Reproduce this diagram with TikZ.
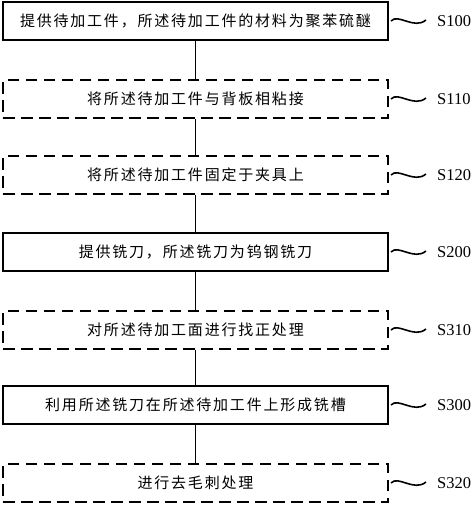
\documentclass[tikz,border=0pt]{standalone}
\usepackage{fontspec}
\setmainfont{Liberation Serif}
\newfontfamily\cjk[LetterSpace=12]{Noto Sans CJK SC}
\begin{document}
\begin{tikzpicture}[x=1pt,y=1pt]
\tikzset{
 solidbox/.style={draw, line width=1.8pt, minimum width=385pt, minimum height=38pt, inner sep=0pt, font=\cjk\fontsize{15}{18}\selectfont},
 dashbox/.style={solidbox, line width=2.7pt, dash pattern=on 11.5pt off 6.5pt},
 conn/.style={line width=1.8pt},
 lab/.style={font=\fontsize{16.5}{20}\selectfont, anchor=west, inner sep=0pt},
 squig/.style={line width=1.6pt}
}
\useasboundingbox (0,0) rectangle (474,-507);
\foreach \n/\y/\st/\t/\l in {
 1/21/solidbox/{提供待加工件，所述待加工件的材料为聚苯硫醚}/S100,
 2/99/dashbox/{将所述待加工件与背板相粘接}/S110,
 3/175/dashbox/{将所述待加工件固定于夹具上}/S120,
 4/252/solidbox/{提供铣刀，所述铣刀为钨钢铣刀}/S200,
 5/330/dashbox/{对所述待加工面进行找正处理}/S310,
 6/405/solidbox/{利用所述铣刀在所述待加工件上形成铣槽}/S300,
 7/483/dashbox/{进行去毛刺处理}/S320}{
 \node[\st] (b\n) at (195.5,-\y) {\t};
 \node[lab] (l\n) at (437,-\y) {\l};
 \coordinate (sa\n) at (391,-\y);
 \coordinate (sb\n) at (426,-\y+1);
 \draw[squig] (sa\n) .. controls +(7,8) and +(-12,-10) .. (sb\n);
}
\foreach \a/\b in {1/2,2/3,3/4,4/5,5/6,6/7}{
 \draw[conn] (b\a.south) -- (b\b.north);
}
\end{tikzpicture}
\end{document}
